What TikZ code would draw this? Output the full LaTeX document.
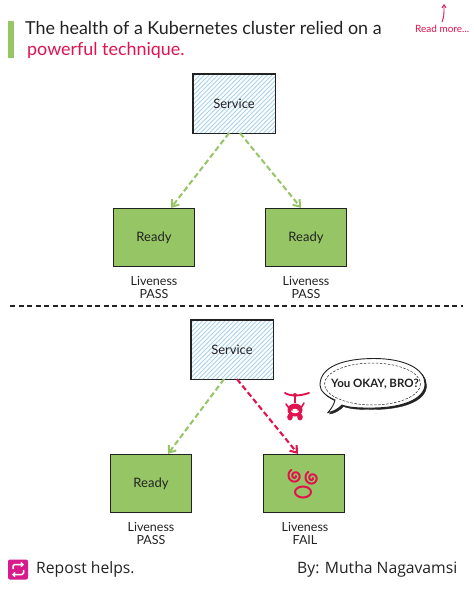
\documentclass[tikz,border=0pt]{standalone}
\usepackage{fontspec}
\setmainfont{Lato}
\newfontfamily\uifont{Open Sans}
\usetikzlibrary{arrows.meta,shapes.geometric}
\definecolor{leaf}{HTML}{96C565}
\definecolor{hot}{HTML}{E0134F}
\definecolor{hatch}{HTML}{A9D3EA}
\definecolor{ink}{HTML}{222222}
\definecolor{pinkicon}{HTML}{D81B8C}
\tikzset{
  x=1pt,y=-1pt,
  box/.style={minimum width=81pt,minimum height=58pt,line width=1.2pt,inner sep=0pt,font=\fontsize{13}{15}\selectfont,text=ink},
  readybox/.style={box,draw=ink,fill=leaf},
  servicebox/.style={box},
  caption/.style={align=center,font=\fontsize{12.5}{13}\selectfont,text=ink,inner sep=0pt},
  okarrow/.style={draw=leaf,line width=2pt,dash pattern=on 5.5pt off 3pt,-{Straight Barb[length=6pt,width=9pt]}},
  failarrow/.style={draw=hot,line width=2.1pt,dash pattern=on 5.5pt off 3pt,-{Straight Barb[length=6pt,width=9pt]}},
  title/.style={anchor=west,font=\fontsize{17.9}{20}\selectfont,inner sep=0pt},
  foot/.style={anchor=west,font=\uifont\fontsize{15.7}{18}\selectfont,inner sep=0pt,text=ink},
}
\newcommand{\hatchfill}[1]{%
  \begin{scope}
    \clip (#1.south west) rectangle (#1.north east);
    \foreach \d in {0,4.5,...,160}{
      \draw[hatch,line width=.8pt] ([xshift=\d pt-60pt]#1.south west) -- ++(70,-70);
    }
  \end{scope}
  \draw[ink,line width=1.2pt] (#1.south west) rectangle (#1.north east);
}
\newcommand{\swirl}[3]{%
  \draw[hot,line width=2pt,line cap=round,domain=0:#3,samples=60,smooth,variable=\t]
    plot ({#1+(.8+.0105*\t)*cos(\t)},{#2+(.8+.0105*\t)*sin(\t)});
}
\begin{document}
\begin{tikzpicture}
\useasboundingbox (0,0) rectangle (474,592);
\fill[white] (0,0) rectangle (474,592);

% header
\fill[leaf] (8,21) rectangle (14,58);
\node[title,text=ink] (head1) at (25,28) {The health of a Kubernetes cluster relied on a};
\node[title,text=hot] (head2) at (27,50) {powerful technique.};
\node[anchor=west,inner sep=0pt,text=hot,font=\fontsize{10}{12}\selectfont] (more) at (415,29) {Read more...};
\coordinate (moretip) at (444,4);
\draw[hot,line width=.9pt,-{Straight Barb[length=3pt,width=4pt]}] (442,22) .. controls (444,16) .. (moretip);

% top diagram
\node[servicebox] (s1) at (234,103.5) {};
\hatchfill{s1}
\node[text=ink,font=\fontsize{13}{15}\selectfont] at (s1) {Service};
\node[readybox] (r1) at (154,237.5) {Ready};
\node[readybox] (r2) at (306,237.5) {Ready};
\node[caption] (c1) at (154,287) {Liveness\\PASS};
\node[caption] (c2) at (306,287) {Liveness\\PASS};
\draw[okarrow] ([xshift=-5pt]s1.south) -- ([xshift=17pt]r1.north);
\draw[okarrow] ([xshift=6pt]s1.south) -- ([xshift=-5pt]r2.north);

% divider
\coordinate (divl) at (10,306);
\coordinate (divr) at (463,306);
\draw[ink,line width=1.2pt,dash pattern=on 5pt off 3.5pt] (divl) -- (divr);

% bottom diagram
\node[servicebox] (s2) at (232,349.5) {};
\hatchfill{s2}
\node[text=ink,font=\fontsize{13}{15}\selectfont] at (s2) {Service};
\node[readybox] (r3) at (151,483.5) {Ready};
\node[readybox] (r4) at (304,483.5) {};
\node[caption] (c3) at (151,533) {Liveness\\PASS};
\node[caption] (c4) at (305,533) {Liveness\\FAIL};
\draw[okarrow] ([xshift=-8pt]s2.south) -- ([xshift=17pt]r3.north);
\draw[failarrow] ([xshift=5pt]s2.south) -- ([xshift=-6pt]r4.north);

% dazed face
\swirl{295}{476}{600}
\swirl{312}{478}{600}
\draw[hot,line width=2pt] (303,492) ellipse (8 and 5.5);

% monkey
\begin{scope}[hot]
  \draw[line width=1.9pt,line cap=round] (285,393) .. controls (291,396.5) and (300,396) .. (309,393);
  \fill (295,395) circle (2);
  \draw[line width=1.7pt] (295,396) -- (295,403);
  \draw[line width=1.6pt,line cap=round] (289,408) -- (286,404) (301,408) -- (304,403);
  \fill (295,410) ellipse (7.5 and 6.5);
  \fill (290,417) ellipse (2.8 and 3.5);
  \fill (300,417) ellipse (2.8 and 3.5);
  \fill[white] (295,411) ellipse (4 and 2.2);
  \fill (292,410) circle (.8) (298,410) circle (.8);
\end{scope}

% speech bubble
\newcommand{\bubblepath}[1]{%
  (320,385) .. controls (320,366) and (345,358.5) .. (374,358.5)
  .. controls (405,358.5) and (425,369) .. (425,384)
  .. controls (425,400) and (400,408) .. (372,408)
  .. controls (360,408) and (350,408) .. (342,405)
  .. controls (338,409) and (333,412) .. (328,412.5)
  .. controls (332,408) and (334,404) .. (335,400)
  .. controls (326,396) and (320,391) .. (320,385) -- cycle}
\draw[ink,fill=ink,xshift=1.5pt,yshift=-1.5pt] \bubblepath{};
\draw[ink,fill=white,line width=.9pt] \bubblepath{};
\draw[ink,line width=.5pt,dash pattern=on 2.5pt off 1.5pt] (372.5,384) ellipse (48 and 21);
\node[font=\fontsize{11.5}{13}\selectfont\bfseries,text=ink,inner sep=0pt] (say) at (375,384) {You OKAY, BRO?};

% footer
\node[rounded corners=2pt,fill=pinkicon,minimum size=20pt,inner sep=0pt] (icon) at (18,569.5) {};
\draw[white,line width=1.5pt,rounded corners=1.5pt,-{Straight Barb[length=2pt,width=4pt]}] (13,569) -- (13,564.5) -- (24,564.5);
\draw[white,line width=1.5pt,rounded corners=1.5pt,-{Straight Barb[length=2pt,width=4pt]}] (23.5,570) -- (23.5,574.5) -- (12,574.5);
\node[foot] (rep) at (36,569) {Repost helps.};
\node[foot] (by) at (297,569) {By: Mutha Nagavamsi};
\end{tikzpicture}
\end{document}
